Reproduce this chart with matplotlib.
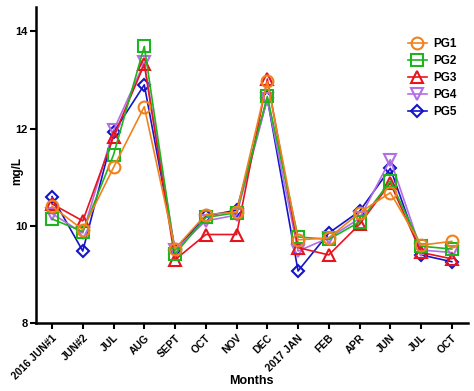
import matplotlib
matplotlib.use('Agg')
import matplotlib.pyplot as plt

plt.rcParams['font.family'] = ['Liberation Sans', 'DejaVu Sans']
plt.rcParams['font.weight'] = 'bold'

months = ['2016 JUN#1', 'JUN#2', 'JUL', 'AUG', 'SEPT', 'OCT', 'NOV', 'DEC',
          '2017 JAN', 'FEB', 'APR', 'JUN', 'JUL', 'OCT']

pg1 = [10.40, 9.92, 11.20, 12.45, 9.53, 10.23, 10.28, 12.97, 9.71, 9.75, 10.27, 10.68, 9.60, 9.68]
pg2 = [10.14, 9.88, 11.46, 13.69, 9.42, 10.17, 10.27, 12.66, 9.77, 9.72, 10.08, 10.92, 9.58, 9.52]
pg3 = [10.45, 10.10, 11.83, 13.32, 9.30, 9.82, 9.82, 13.02, 9.55, 9.40, 10.03, 10.88, 9.45, 9.32]
pg4 = [10.25, 9.85, 11.96, 13.36, 9.50, 10.10, 10.22, 12.60, 9.48, 9.75, 10.15, 11.36, 9.50, 9.45]
pg5 = [10.60, 9.48, 11.92, 12.90, 9.50, 10.20, 10.32, 12.62, 9.07, 9.85, 10.30, 11.18, 9.40, 9.26]

series = [('PG1', pg1, '#F0821E', 'o'),
          ('PG2', pg2, '#1EB41E', 's'),
          ('PG3', pg3, '#E6141E', '^'),
          ('PG4', pg4, '#B46EE6', 'v'),
          ('PG5', pg5, '#1414C8', 'D')]

fig = plt.figure(figsize=(4.74, 3.91), dpi=100)
ax = fig.add_axes([0.076, 0.174, 0.911, 0.808])

x = list(range(len(months)))
for i, (name, vals, col, mk) in enumerate(series):
    ms = 6.5 if mk == 'D' else 8.5
    # first series ends up on top
    ax.plot(x, vals, color=col, marker=mk, markersize=ms, markerfacecolor='none',
            markeredgewidth=1.5, linewidth=1.2, label=name, zorder=10 - i)

ax.set_xlim(-0.52, 13.52)
ax.set_ylim(8, 14.5)
ax.set_yticks([8, 10, 12, 14])
ax.set_xticks(x)
ax.set_xticklabels(months, rotation=45, ha='right', rotation_mode='anchor', fontsize=7.5)
ax.tick_params(axis='y', labelsize=8, width=1.5, length=4, pad=2)
ax.tick_params(axis='x', width=1.5, length=4, pad=3)

for s in ['top', 'right']:
    ax.spines[s].set_visible(False)
for s in ['left', 'bottom']:
    ax.spines[s].set_linewidth(1.8)

ax.set_ylabel('mg/L', fontsize=8.5, fontweight='bold')
ax.yaxis.set_label_coords(-0.044, 0.48)
ax.set_xlabel('Months', fontsize=9, fontweight='bold')
ax.xaxis.set_label_coords(0.498, -0.184)
ax.xaxis.label.set_va('center')
ax.yaxis.label.set_va('center')

ax.legend(loc='upper right', frameon=False, fontsize=8.5, bbox_to_anchor=(1.0, 0.935),
          handlelength=1.6, labelspacing=0.42, handletextpad=0.6)

fig.savefig('out.png', dpi=100)
